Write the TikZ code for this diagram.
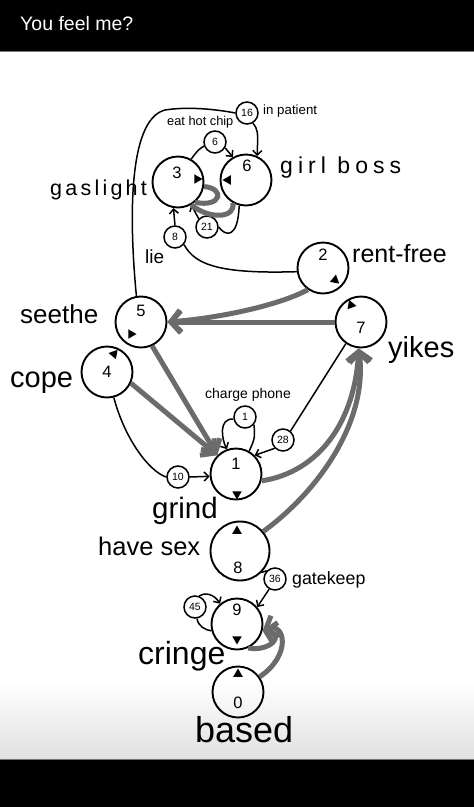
\documentclass[tikz,border=0pt]{standalone}
\usepackage{fontspec}
\setmainfont{Liberation Sans}
\usetikzlibrary{arrows.meta,shapes.geometric}
\definecolor{grayc}{HTML}{6B6B6B}
\newcommand{\fs}[1]{\fontsize{#1}{#1}\selectfont}
\begin{document}
\begin{tikzpicture}[x=1pt,y=-1pt,
 big/.style={circle,draw,line width=1.9pt,minimum size=51pt,inner sep=0pt},
 sm/.style={circle,draw,line width=1.5pt,minimum size=22pt,inner sep=0pt,font=\fs{10.5}},
 num/.style={font=\fs{16.5},inner sep=0pt},
 lbl/.style={anchor=base west,inner sep=0pt},
 tri/.style={regular polygon,regular polygon sides=3,fill=black,inner sep=0pt,minimum size=11pt},
 thin/.style={line width=1.5pt},
 thinarr/.style={thin,-{Straight Barb[length=4.5pt,width=9pt]}},
 gr/.style={line width=5pt,draw=grayc},
 grarr/.style={gr,-{Straight Barb[length=10pt,width=22pt]}}
]
\useasboundingbox (0,0) rectangle (474,807);
% background
\fill[white] (0,52) rectangle (474,682);
\shade[top color=white,bottom color=black!12] (0,681) rectangle (474,759);
\fill[black] (0,0) rectangle (474,51);
\fill[black] (0,760) rectangle (474,807);
\draw[black!55,line width=1pt] (0,51.5) -- (474,51.5);
\draw[black!55,line width=1pt] (0,759.5) -- (474,759.5);
\node[lbl,text=white,font=\fs{19.5}] (title) at (20,30) {You feel me?};

% big nodes
\node[big] (n3) at (178,182) {};
\node[big] (n6) at (246,180) {};
\node[big] (n2) at (323,268) {};
\node[big] (n7) at (361,322) {};
\node[big] (n5) at (141,322) {};
\node[big] (n4) at (107,372) {};
\node[big] (n1) at (236,474) {};
\node[big,minimum size=59pt] (n8) at (240,551) {};
\node[big] (n9) at (237,624) {};
\node[big] (n0) at (238,692) {};

% numbers
\node[num] (k3) at (177,173) {3};
\node[num] (k6) at (247,166) {6};
\node[num] (k2) at (323,255) {2};
\node[num] (k7) at (361,328) {7};
\node[num] (k5) at (141,311) {5};
\node[num] (k4) at (107,372) {4};
\node[num] (k1) at (236,464) {1};
\node[num] (k8) at (238,568) {8};
\node[num] (k9) at (237,610) {9};
\node[num] (k0) at (238,703) {0};

% triangles
\node[tri,shape border rotate=-90] (t3) at (197,179) {};
\node[tri,shape border rotate=90] (t6) at (228,180) {};
\node[tri,shape border rotate=110] (t2) at (335,280) {};
\node[tri,shape border rotate=-100] (t7) at (351,305) {};
\node[tri,shape border rotate=-90] (t5) at (131,334) {};
\node[tri,shape border rotate=80] (t4) at (114,354) {};
\node[tri,shape border rotate=180] (t1) at (237,494) {};
\node[tri] (t8) at (237,531) {};
\node[tri,shape border rotate=180] (t9) at (237,639) {};
\node[tri] (t0) at (238,674) {};

% small nodes
\node[sm] (s16) at (247,113) {16};
\node[sm] (s6) at (215,142) {6};
\node[sm] (s8) at (175,237) {8};
\node[sm] (s21) at (207,227) {21};
\node[sm] (s1) at (245,417) {1};
\node[sm] (s28) at (283,440) {28};
\node[sm] (s10) at (178,477) {10};
\node[sm] (s36) at (275,579) {36};
\node[sm] (s45) at (195,607) {45};

% labels
\node[lbl,font=\fs{13.3}] (Linp) at (263,114) {in patient};
\node[lbl,font=\fs{12.8}] (Leat) at (167,125) {eat hot chip};
\node[lbl,font=\fs{23}\addfontfeature{LetterSpace=22}] (Lgirl) at (280,173) {girl boss};
\node[lbl,font=\fs{21.5}\addfontfeature{LetterSpace=15}] (Lgas) at (50,195) {gaslight};
\node[lbl,font=\fs{19}] (Llie) at (145,263) {lie};
\node[lbl,font=\fs{25}] (Lrent) at (352,262) {rent-free};
\node[lbl,font=\fs{26}] (Lsee) at (20,323) {seethe};
\node[lbl,font=\fs{29}] (Lcope) at (10,387) {cope};
\node[lbl,font=\fs{29}] (Lyik) at (388,357) {yikes};
\node[lbl,font=\fs{14}] (Lchg) at (205,398) {charge phone};
\node[lbl,font=\fs{29.5}] (Lgrind) at (152,518) {grind};
\node[lbl,font=\fs{25.5}] (Lsex) at (98,555) {have sex};
\node[lbl,font=\fs{17.8}] (Lgate) at (292,584) {gatekeep};
\node[lbl,font=\fs{32}] (Lcri) at (138,664) {cringe};
\node[lbl,font=\fs{36}] (Lbas) at (195,742) {based};

% thin connectors
\draw[thin] (n5.100) .. controls (130,230) and (126,120) .. (165,110) .. controls (190,106) and (220,110) .. (s16.west);
\draw[thinarr] (s16.-60) .. controls (258,130) .. (n6.65);
\draw[thin] (n3.60) .. controls (198,150) .. (s6.200);
\draw[thinarr] (s6.-30) -- (n6.120);
\draw[thin] (n2.188) .. controls (220,274) and (195,265) .. (s8.-40);
\draw[thinarr] (s8.north) -- (n3.-100);
\draw[thin] (n6.-105) .. controls (238,240) and (225,236) .. (s21.east);
\draw[thinarr] (s21.135) -- (n3.-60);
\draw[thin] (n4.-75) .. controls (125,440) and (150,472) .. (s10.west);
\draw[thinarr] (s10.east) -- (n1.185);
\draw[thinarr] (s1.190) .. controls (218,418) and (222,440) .. (n1.110);
\draw[thin] (s1.-40) .. controls (255,438) .. (n1.60);
\draw[thin] (n7.235) -- (s28.50);
\draw[thinarr] (s28.225) -- (n1.45);
\draw[thin] (n8.-45) -- (s36.135);
\draw[thinarr] (s36.240) -- (n9.40);
\draw[thin] (s45.-80) .. controls (198,626) and (205,630) .. (n9.195);
\draw[thinarr] (s45.70) .. controls (205,592) and (214,594) .. (n9.130);

% gray connectors
\draw[gr] (n3.-10) .. controls (225,188) and (222,208) .. (n3.-50);
\draw[gr] (n6.240) .. controls (236,218) and (210,220) .. (n3.-60);
\draw[grarr] (n2.235) .. controls (280,305) and (220,318) .. (n5.east);
\draw[grarr] (n7.west) -- (n5.east);
\draw[grarr] (n5.-65) -- (n1.135);
\draw[grarr] (n4.-25) -- (n1.135);
\draw[grarr] (n1.-15) .. controls (320,472) and (355,420) .. (n7.-95);
\draw[grarr] (n8.40) .. controls (320,490) and (368,420) .. (n7.-95);
\draw[grarr] (n9.-65) .. controls (270,652) and (285,635) .. (n9.-15);
\draw[grarr] (n0.35) .. controls (292,655) and (285,622) .. (n9.-15);
\end{tikzpicture}
\end{document}
